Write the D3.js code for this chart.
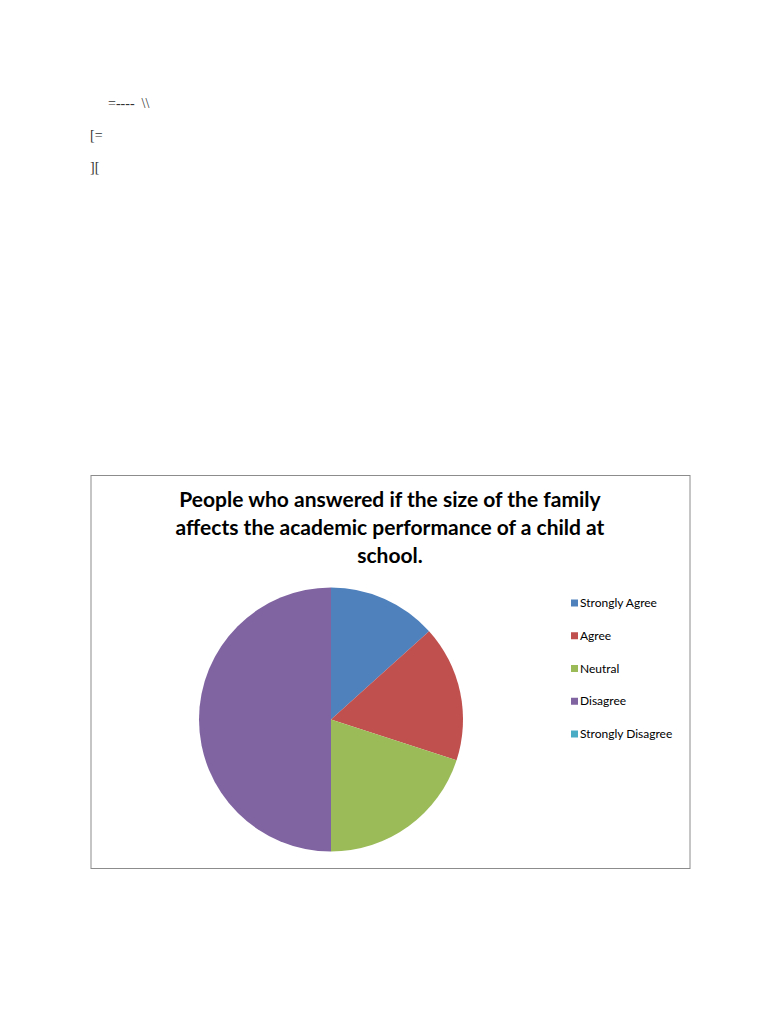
<!DOCTYPE html>
<html><head><meta charset="utf-8">
<script src="https://cdn.jsdelivr.net/npm/d3@7"></script>
<style>body{margin:0;background:#fff}svg{display:block}</style>
</head><body>
<svg id="c" width="768" height="1024"></svg>
<script>
const categories = ["Strongly Agree","Agree","Neutral","Disagree","Strongly Disagree"];
const values = [8, 10, 12, 30, 0];
const colors = ["#4F81BD","#C0504D","#9BBB59","#8064A2","#4BACC6"];
const titleLines = ["People who answered if the size of the family","affects the academic performance of a child at","school."];
const noteLines = [{t:"=----  \\\\", x:108, y:108},{t:"[=", x:90, y:140},{t:"][", x:90, y:172}];

const svg = d3.select("#c");
svg.append("rect").attr("width",768).attr("height",1024).attr("fill","#fff");

svg.selectAll("text.note").data(noteLines).join("text").attr("class","note")
  .attr("x",d=>d.x).attr("y",d=>d.y).attr("font-family","Liberation Serif, serif")
  .attr("font-size",14).attr("fill","#333").style("white-space","pre").text(d=>d.t);

svg.append("rect").attr("x",91).attr("y",475.5).attr("width",599).attr("height",393)
  .attr("fill","#fff").attr("stroke","#8c8c8c").attr("stroke-width",1);

svg.selectAll("text.title").data(titleLines).join("text").attr("class","title")
  .attr("x",390).attr("y",(d,i)=>507+i*28).attr("text-anchor","middle")
  .attr("font-family","Lato, sans-serif").attr("font-weight","bold").attr("font-size",21)
  .attr("fill","#000").text(d=>d);

const pie = d3.pie().sort(null).value(d=>d)(values);
const arc = d3.arc().innerRadius(0).outerRadius(132);
const g = svg.append("g").attr("transform","translate(331,719.5)");
g.selectAll("path").data(pie).join("path").attr("d",arc).attr("fill",(d,i)=>colors[i]);

const y = d3.scalePoint().domain(categories).range([603,734]);
const lg = svg.append("g");
lg.selectAll("rect").data(categories).join("rect")
  .attr("x",571).attr("y",d=>y(d)-3.5).attr("width",7).attr("height",7).attr("fill",(d,i)=>colors[i]);
lg.selectAll("text").data(categories).join("text")
  .attr("x",580).attr("y",d=>y(d)+4).attr("font-family","Lato, sans-serif").attr("font-size",12)
  .attr("fill","#000").text(d=>d);
</script>
</body></html>
